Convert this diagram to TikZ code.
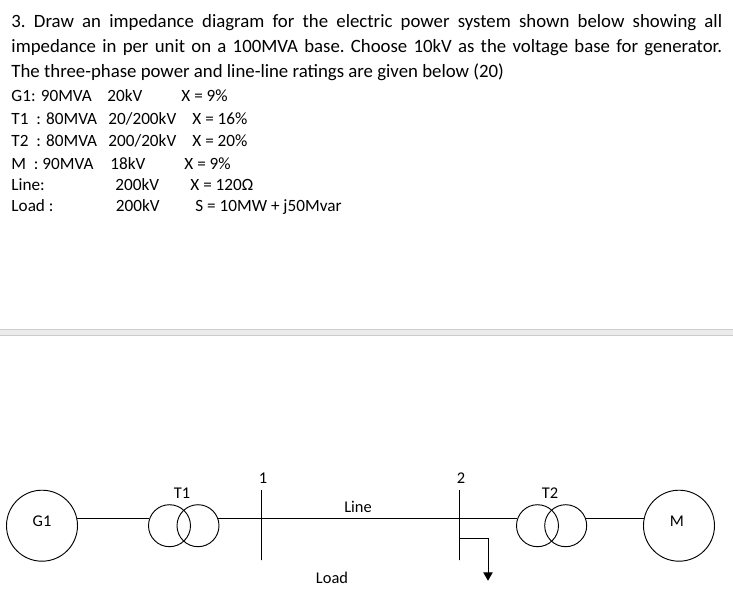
\documentclass[tikz,border=0pt]{standalone}
\usepackage{fontspec}
\setmainfont{Carlito}
\usepackage{tikz}
\usetikzlibrary{positioning,shapes,arrows}
\usepackage{xcolor}
\tikzstyle{machine}=[circle, draw=black, minimum size=53.25pt, inner sep=0pt]
\tikzstyle{winding}=[circle, draw=black, minimum size=31.5pt, inner sep=0pt]
\tikzstyle{bus}=[rectangle, draw=black, minimum width=0pt, minimum height=52.5pt, inner sep=0pt]
\tikzstyle{label}=[font=\fontsize{12.3}{14}\selectfont, inner sep=0pt]
\tikzstyle{row}=[font=\fontsize{12.9}{14}\selectfont, inner sep=0pt, anchor=base west]

\begin{document}
\begin{tikzpicture}[x=0.75pt, y=-0.75pt, line width=0.7pt]
            \useasboundingbox (0,0) rectangle (733,615);
            \node (question)[anchor=north west, inner sep=0pt, text width=533pt, align=justify,
                font=\fontsize{14.1}{18.75}\selectfont\frenchspacing] at (11,13.5)
                {3. Draw an impedance diagram for the electric power system shown below showing all\linebreak
                impedance in per unit on a 100MVA base. Choose 10kV as the voltage base for generator.\linebreak
                The three-phase power and line-line ratings are given below (20)};
            \node (g1name)[row] at (11,101.2) {G1: 90MVA};
            \node (g1volt)[row] at (107,101.2) {20kV};
            \node (g1x)[row] at (181,101.2) {X = 9\%};
            \node (t1name)[row] at (11,124.2) {T1\ \ : 80MVA};
            \node (t1volt)[row] at (108,124.2) {20/200kV};
            \node (t1x)[row] at (192,124.2) {X = 16\%};
            \node (t2name)[row] at (11,146.8) {T2\ \ : 80MVA};
            \node (t2volt)[row] at (108,146.8) {200/20kV};
            \node (t2x)[row] at (192,146.8) {X = 20\%};
            \node (mname)[row] at (11,169) {M\ \ : 90MVA};
            \node (mvolt)[row] at (110,169) {18kV};
            \node (mx)[row] at (184,169) {X = 9\%};
            \node (linename)[row] at (11,190.8) {Line:};
            \node (linevolt)[row] at (115,190.8) {200kV};
            \node (linex)[row] at (190,190.8) {X = 120Ω};
            \node (loadname)[row] at (11,211.5) {Load :};
            \node (loadvolt)[row] at (115.5,211.5) {200kV};
            \node (loads)[row] at (195,211.5) {S = 10MW + j50Mvar};

            \fill [black!8] (0,329.5) rectangle (733,335.5);
            \draw [black!20] (0,329.5) -- (733,329.5);
            \draw [black!20] (0,335.5) -- (733,335.5);

            \node (G1)[machine] at (42,525.7) {};
            \node (T1a)[winding] at (169.5,525.7) {};
            \node (T1b)[winding] at (198,525.7) {};
            \node (bus1)[bus] at (261.5,525) {};
            \node (bus2)[bus] at (459.5,525) {};
            \node (T2a)[winding] at (537.5,525.7) {};
            \node (T2b)[winding] at (565.7,525.7) {};
            \node (M)[machine] at (679,525.7) {};
            \node (g1text)[label] at (42,521.5) {G1};
            \node (mtext)[label] at (677,521.5) {M};
            \node (t1text)[label] at (182,493) {T1};
            \node (t2text)[label] at (550,493) {T2};
            \node (bus1text)[label] at (263,478) {1};
            \node (bus2text)[label] at (461,478) {2};
            \node (linetext)[label] at (358,507) {Line};
            \node (loadtext)[label] at (332,578) {Load};
            \coordinate (j1) at (261.5,518.5);
            \coordinate (j2) at (459.5,518.5);
            \coordinate (tap) at (459.5,538.5);
            \coordinate (elbow) at (488,538.5);
            \coordinate (loadend) at (488,580.7);

            \draw (G1.11.4 |- j1) -- (T1a.160.5 |- j1);
            \draw (T1b.19.5 |- j1) -- (j1);
            \draw (j1) -- (j2);
            \draw (j2) -- (T2a.160.5 |- j2);
            \draw (T2b.19.5 |- j2) -- (M.168.6 |- j2);
            \draw [-triangle 60] (tap) -- (elbow) -- (loadend);
        \end{tikzpicture}
\end{document}
